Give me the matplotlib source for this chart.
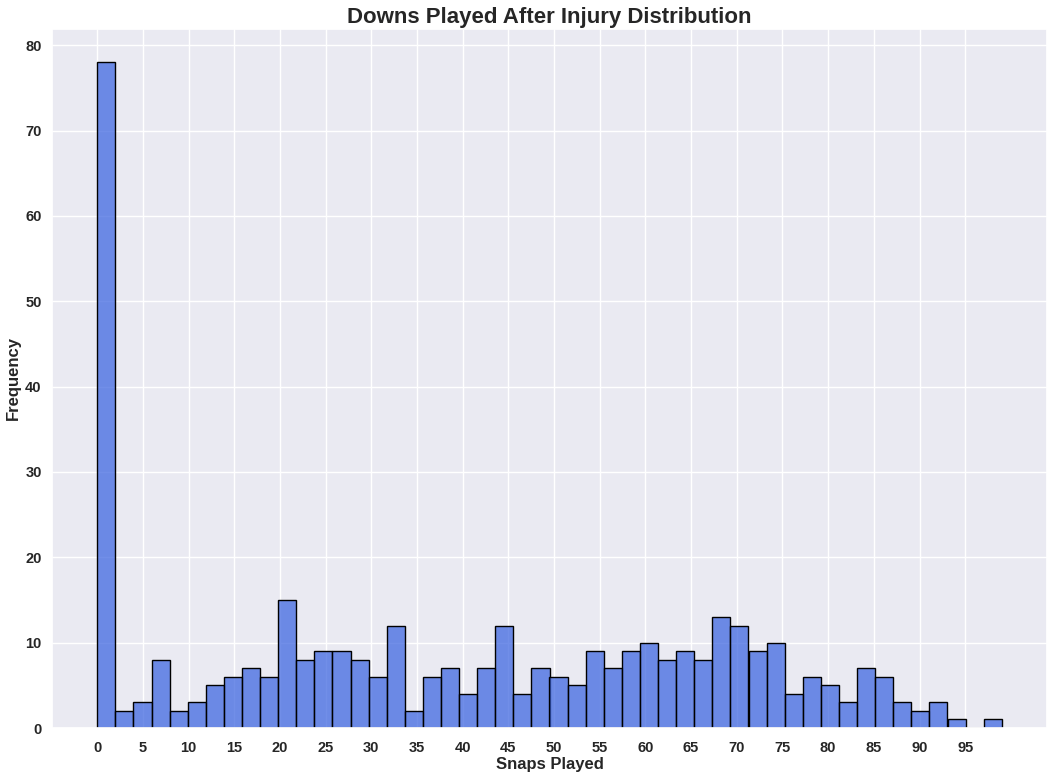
import numpy as np
import matplotlib.pyplot as plt
import seaborn as sns
from matplotlib.colors import to_rgba

# histogram counts: 50 equal bins spanning 0..99 snaps
bin_lo, bin_hi, n_bins = 0, 99, 50
counts = [78, 2, 3, 8, 2, 3, 5, 6, 7, 6,
          15, 8, 9, 9, 8, 6, 12, 2, 6, 7,
          4, 7, 12, 4, 7, 6, 5, 9, 7, 9,
          10, 8, 9, 8, 13, 12, 9, 10, 4, 6,
          5, 3, 7, 6, 3, 2, 3, 1, 0, 1]
xticks = list(range(0, 100, 5))

sns.set_theme(style='darkgrid')
plt.rcParams['font.family'] = ['Liberation Sans', 'DejaVu Sans']

edges = np.linspace(bin_lo, bin_hi, n_bins + 1)
fig = plt.figure(figsize=(10.6, 7.78), dpi=100)
ax = fig.add_axes([52 / 1060, 1 - 728 / 778, (1047 - 52) / 1060, (728 - 29) / 778])
# translucent face, opaque black edge
ax.hist(edges[:-1], bins=edges, weights=counts, facecolor=to_rgba('royalblue', 0.75),
        edgecolor='black', linewidth=1)
ax.set_xlim(bin_lo - 0.05 * (bin_hi - bin_lo), bin_hi + 0.05 * (bin_hi - bin_lo))
ax.set_ylim(0, max(counts) * 1.05)
ax.set_xticks(xticks)
ax.tick_params(labelsize=10.5)
ax.tick_params(axis='y', pad=1.5)
ax.tick_params(axis='x', pad=3.5)
for lab in ax.get_xticklabels() + ax.get_yticklabels():
    lab.set_fontweight('bold')
ax.set_xlabel('Snaps Played', fontsize=12, fontweight='bold', labelpad=1)
ax.set_ylabel('Frequency', fontsize=12, fontweight='bold')
ax.yaxis.set_label_coords(-0.031, 0.5)
ax.set_title('Downs Played After Injury Distribution', fontsize=16, fontweight='bold', pad=4)

fig.savefig('out.png', dpi=100)
